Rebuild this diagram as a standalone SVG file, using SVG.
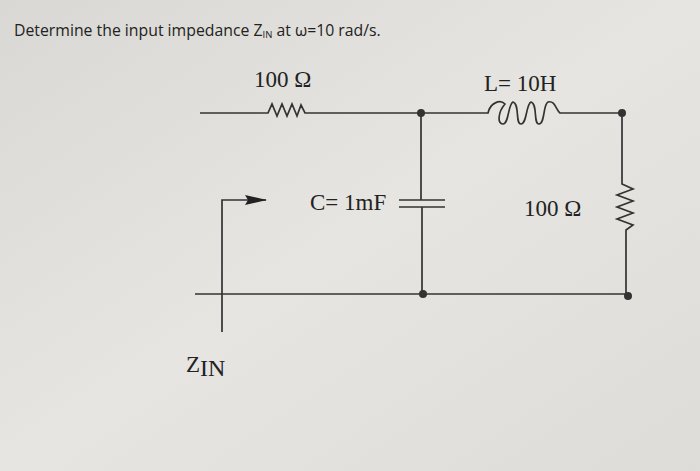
<svg xmlns="http://www.w3.org/2000/svg" width="700" height="471" viewBox="0 0 700 471">
<defs>
<linearGradient id="bg" x1="0" y1="0" x2="1" y2="1">
<stop offset="0" stop-color="#d9d8d4"/><stop offset="0.5" stop-color="#e6e5e1"/><stop offset="1" stop-color="#dedcd8"/>
</linearGradient>
<marker id="ah" markerWidth="22" markerHeight="10" refX="21" refY="5" orient="auto" markerUnits="userSpaceOnUse">
<path d="M0,0 L22,5 L0,10 L3,5 Z" fill="#222"/>
</marker>
<style>
.w{stroke:#333;stroke-width:1.7;fill:none}
.d{fill:#333}
.lbl{font-family:"Liberation Serif",serif;font-size:23px;fill:#222}
</style>
</defs>
<rect width="700" height="471" fill="url(#bg)"/>
<text x="14" y="36" font-family="Open Sans, sans-serif" font-size="15.8" fill="#222">Determine the input impedance Z<tspan font-size="9.5" dy="2">IN</tspan><tspan dy="-2"> at ω=10 rad/s.</tspan></text>
<g id="connectors">
<path class="w" d="M200,113 H268 L272,104 L277,116 L282,104 L287,116 L292,104 L297,116 L301,105 L305,113 H421"/>
<path class="w" d="M421,113 H488 C490,103 500,99 505,104 C498,112 497,124 503,124 C509,124 508,104 513,102 C520,104 515,124 521,124 C527,124 526,104 531,102 C538,104 533,124 539,124 C545,124 543,104 548,102 C555,100 556,110 560,113 H622"/>
<path class="w" d="M622,113 V184 L633,189 L617,195 L633,201 L617,207 L633,213 L617,219 L633,225 L626,230 V296"/>
<path class="w" d="M421,113 V200 M399,200 H445 M399,207 H445 M422,207 V294"/>
<path class="w" d="M195,294 H628"/>
<path class="w" d="M222,332 V200 H266" marker-end="url(#ah)"/>
</g>
<g id="nodes">
<circle class="d" cx="421" cy="113" r="4"/>
<circle class="d" cx="622" cy="113" r="4"/>
<circle class="d" cx="423" cy="294" r="4"/>
<circle class="d" cx="628" cy="296" r="4"/>
</g>
<g id="labels">
<text class="lbl" x="254" y="87">100 Ω</text>
<text class="lbl" x="484" y="91">L= 10H</text>
<text class="lbl" x="310" y="210">C= 1mF</text>
<text class="lbl" x="524" y="216">100 Ω</text>
<text class="lbl" x="186" y="372" font-size="34">Z<tspan font-size="24" dy="4">IN</tspan></text>
</g>
</svg>
